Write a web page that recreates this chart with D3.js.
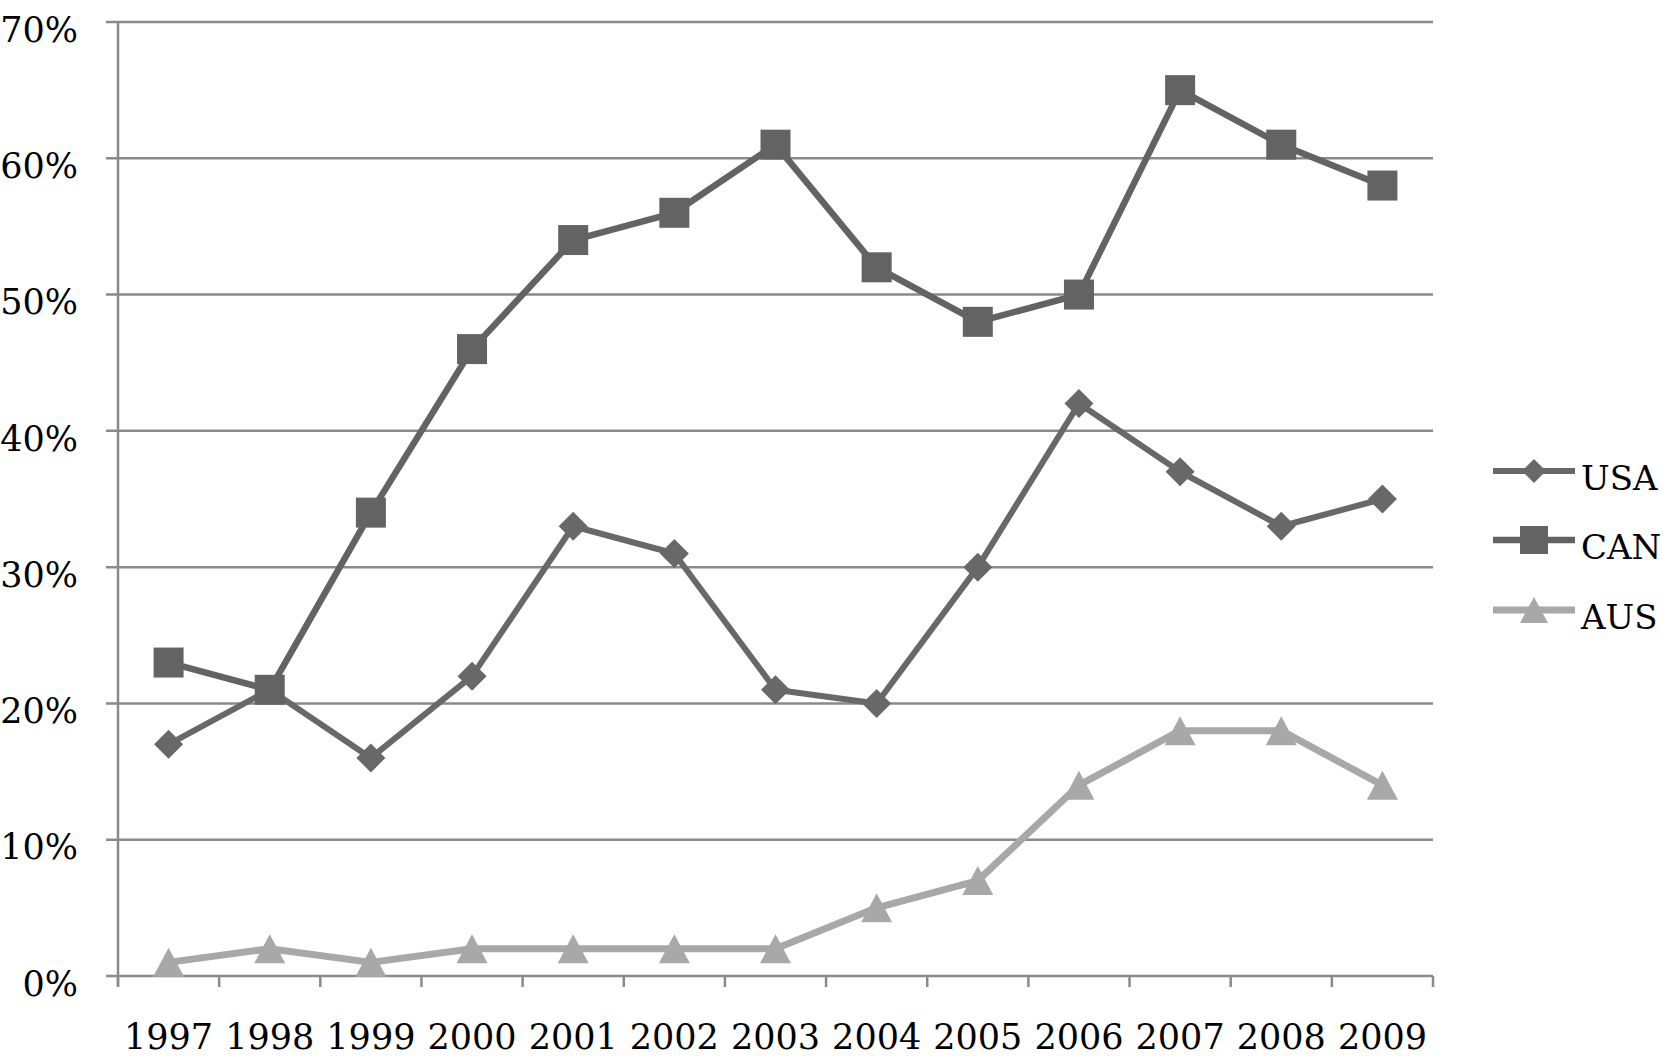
<!DOCTYPE html>
<html>
<head>
<meta charset="utf-8">
<script src="https://cdn.jsdelivr.net/npm/d3@7"></script>
<style>
  html, body { margin: 0; padding: 0; background: #fff; }
  svg { display: block; }
  text { font-family: "DejaVu Serif", "Liberation Serif", serif; fill: #000; }
</style>
</head>
<body>
<svg id="chart" width="1663" height="1064"></svg>
<script>
const years = ["1997","1998","1999","2000","2001","2002","2003","2004","2005","2006","2007","2008","2009"];
const usa = [17, 21, 16, 22, 33, 31, 21, 20, 30, 42, 37, 33, 35];
const can = [23, 21, 34, 46, 54, 56, 61, 52, 48, 50, 65, 61, 58];
const aus = [1, 2, 1, 2, 2, 2, 2, 5, 7, 14, 18, 18, 14];
const yTicks = [0, 10, 20, 30, 40, 50, 60, 70];
const seriesNames = ["USA", "CAN", "AUS"];

const svg = d3.select("#chart");
const plotLeft = 118, plotRight = 1433, plotTop = 22, plotBottom = 976;

const x = d3.scaleBand().domain(years).range([plotLeft, plotRight]).padding(0);
const y = d3.scaleLinear().domain([0, 70]).range([plotBottom, plotTop]);

const gridColor = "#8a8a8a";

// gridlines
svg.append("g").selectAll("line").data(yTicks).join("line")
  .attr("x1", plotLeft - 12).attr("x2", plotRight)
  .attr("y1", d => y(d)).attr("y2", d => y(d))
  .attr("stroke", gridColor).attr("stroke-width", 2.5);

// y axis line
svg.append("line").attr("x1", plotLeft).attr("x2", plotLeft)
  .attr("y1", y(70)).attr("y2", plotBottom + 10)
  .attr("stroke", gridColor).attr("stroke-width", 2.5);

// x ticks at band boundaries
const bounds = d3.range(years.length + 1).map(i => plotLeft + i * x.step());
svg.append("g").selectAll("line").data(bounds).join("line")
  .attr("x1", d => d).attr("x2", d => d)
  .attr("y1", plotBottom).attr("y2", plotBottom + 11)
  .attr("stroke", gridColor).attr("stroke-width", 2.5);

// y labels via axis
const yAxis = svg.append("g").attr("transform", `translate(${plotLeft},0)`)
  .call(d3.axisLeft(y).tickValues(yTicks).tickSize(0).tickPadding(40).tickFormat(d => d + "%"));
yAxis.select(".domain").remove();
yAxis.selectAll("text").attr("font-size", 35).attr("dy", "0.55em")
  .style("font-family", '"DejaVu Serif", serif').attr("fill", "#000");

// x labels via axis
const xAxis = svg.append("g").attr("transform", `translate(0,${plotBottom})`)
  .call(d3.axisBottom(x).tickSize(0).tickPadding(48));
xAxis.select(".domain").remove();
xAxis.selectAll("text").attr("font-size", 35).attr("dy", "0.71em")
  .style("font-family", '"DejaVu Serif", serif').attr("fill", "#000");

const diamond = r => `M0,${-r}L${r},0L0,${r}L${-r},0Z`;
const square = r => `M${-r},${-r}H${r}V${r}H${-r}Z`;
const triangle = r => `M0,${-r}L${r + 1},${r}L${-r - 1},${r}Z`;

const series = [
  { name: seriesNames[0], values: usa, color: "#686868", width: 6, shape: diamond, r: 14.5, lr: 12 },
  { name: seriesNames[1], values: can, color: "#636363", width: 6.5, shape: square, r: 15, lr: 14 },
  { name: seriesNames[2], values: aus, color: "#a8a8a8", width: 7, shape: triangle, r: 14.5, lr: 13 }
];

const line = d3.line().x((d, i) => x(years[i]) + x.bandwidth() / 2).y(d => y(d));

series.forEach(s => {
  const g = svg.append("g");
  g.append("path").datum(s.values)
    .attr("d", line).attr("fill", "none")
    .attr("stroke", s.color).attr("stroke-width", s.width)
    .attr("stroke-linejoin", "round");
  g.selectAll("path.m").data(s.values).join("path").attr("class", "m")
    .attr("transform", (d, i) => `translate(${x(years[i]) + x.bandwidth() / 2},${y(d)})`)
    .attr("d", s.shape(s.r)).attr("fill", s.color);
});

// legend
const legY = [471, 540, 610];
series.forEach((s, i) => {
  const g = svg.append("g").attr("transform", `translate(0,${legY[i]})`);
  g.append("line").attr("x1", 1493).attr("x2", 1575).attr("y1", 0).attr("y2", 0)
    .attr("stroke", s.color).attr("stroke-width", s.width);
  g.append("path").attr("transform", "translate(1534,0)").attr("d", s.shape(s.lr)).attr("fill", s.color);
  g.append("text").attr("x", 1581).attr("y", 19).attr("font-size", 34).text(s.name);
});
</script>
</body>
</html>
